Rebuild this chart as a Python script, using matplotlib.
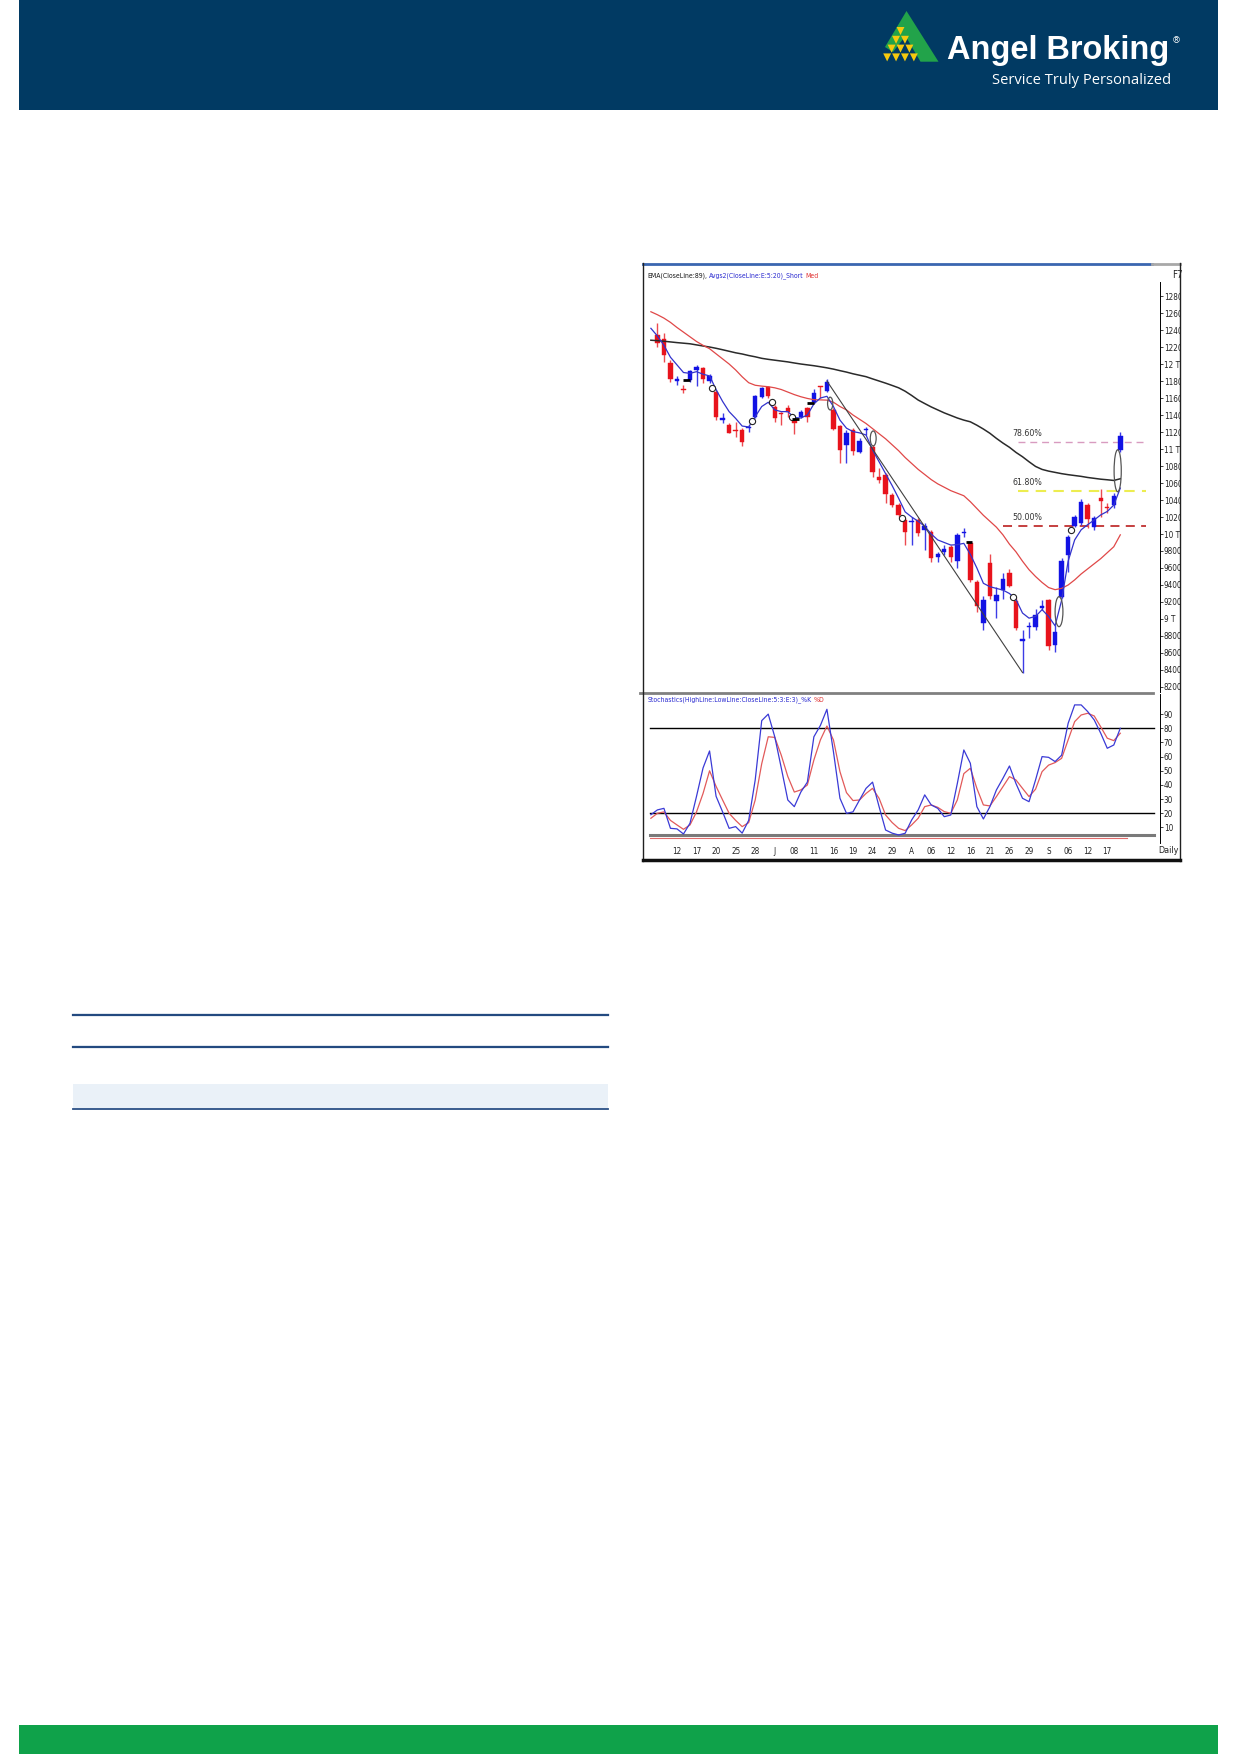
import numpy as np
import matplotlib
matplotlib.use("Agg")
import matplotlib.pyplot as plt
from matplotlib.patches import Rectangle, Polygon, Ellipse
from matplotlib import font_manager as fm

# ---------------- data ----------------
date_labels = ['12', '17', '20', '25', '28', 'J', '08', '11', '16', '19', '24', '29', 'A',
               '06', '12', '16', '21', '26', '29', 'S', '06', '12', '17']
date_label_pos = list(range(3, 70, 3))

opens = [12341, 12290, 12016, 11805, 11710, 11812, 11930, 11949, 11804, 11675,
         11345, 11282, 11227, 11224, 11247, 11380, 11616, 11733, 11498, 11420,
         11486, 11341, 11373, 11478, 11557, 11733, 11686, 11459, 11271, 11047,
         11224, 10969, 11224, 11020, 10675, 10690, 10459, 10341, 10165, 10137,
         10165, 10047, 10020, 9725, 9792, 9851, 9682, 10008, 9890, 9439,
         8949, 9655, 9216, 9341, 9537, 9216, 8745, 8902, 8910, 9133,
         9223, 8694, 9263, 9753, 10094, 10133, 10341, 10078, 10420, 10322,
         10341, 10988]
highs = [12479, 12361, 12047, 11859, 11753, 11930, 11988, 11969, 11883, 11694,
         11420, 11302, 11322, 11243, 11282, 11635, 11733, 11745, 11518, 11430,
         11518, 11361, 11459, 11498, 11702, 11741, 11820, 11478, 11282, 11224,
         11243, 11126, 11263, 11047, 10773, 10720, 10478, 10361, 10184, 10204,
         10184, 10125, 10047, 9792, 9871, 9871, 10008, 10067, 9910, 9459,
         9271, 9765, 9380, 9537, 9584, 9243, 8870, 8968, 9114, 9224,
         9235, 8929, 9714, 9988, 10224, 10408, 10361, 10212, 10525, 10361,
         10478, 11204]
lows = [12204, 12028, 11792, 11753, 11655, 11792, 11741, 11773, 11773, 11341,
        11302, 11184, 11145, 11035, 11204, 11361, 11596, 11596, 11322, 11282,
        11380, 11177, 11361, 11322, 11537, 11596, 11675, 11224, 10831, 10839,
        10929, 10949, 11165, 10675, 10604, 10361, 10314, 10204, 9871, 9871,
        9976, 9812, 9675, 9675, 9753, 9675, 9596, 9969, 9439, 9086,
        8871, 9231, 9008, 9231, 9373, 8871, 8370, 8773, 8870, 9106,
        8635, 8616, 9243, 9557, 10086, 10106, 10067, 10047, 10204, 10243,
        10302, 10969]
closes = [12243, 12106, 11824, 11812, 11695, 11922, 11969, 11820, 11859, 11380,
          11352, 11192, 11208, 11086, 11258, 11624, 11714, 11620, 11361, 11412,
          11439, 11302, 11439, 11373, 11655, 11725, 11792, 11232, 10988, 11184,
          10980, 11094, 11232, 10733, 10635, 10475, 10341, 10224, 10027, 10145,
          10016, 10098, 9714, 9765, 9820, 9725, 9988, 10016, 9459, 9153,
          9224, 9271, 9282, 9471, 9388, 8890, 8765, 8914, 9047, 9141,
          8680, 8851, 9682, 9969, 10196, 10380, 10176, 10184, 10388, 10302,
          10451, 11153]

# moving averages, first value is one bar before the first candle
ema89 = [12280, 12275, 12268, 12260, 12252, 12245, 12238, 12225, 12212, 12200,
         12185, 12168, 12150, 12132, 12118, 12100, 12085, 12067, 12055, 12045,
         12035, 12025, 12012, 12000, 11990, 11980, 11968, 11955, 11940, 11922,
         11905, 11885, 11868, 11851, 11825, 11800, 11775, 11748, 11720, 11680,
         11630, 11576, 11535, 11495, 11460, 11425, 11395, 11365, 11340, 11320,
         11280, 11235, 11185, 11125, 11070, 11020, 10960, 10909, 10850, 10795,
         10760, 10740, 10725, 10710, 10698, 10688, 10678, 10665, 10655, 10645,
         10638, 10630, 10650]
ema20 = [12615, 12580, 12540, 12490, 12430, 12375, 12320, 12265, 12220, 12180,
         12120, 12060, 12000, 11930, 11850, 11780, 11750, 11740, 11733, 11720,
         11700, 11670, 11640, 11615, 11595, 11580, 11578, 11575, 11550, 11500,
         11460, 11400, 11350, 11300, 11240, 11180, 11120, 11050, 10980, 10900,
         10830, 10760, 10700, 10640, 10590, 10550, 10510, 10480, 10450, 10380,
         10300, 10220, 10150, 10080, 9990, 9880, 9790, 9680, 9580, 9500,
         9430, 9370, 9345, 9360, 9400, 9460, 9530, 9590, 9650, 9710,
         9780, 9850, 9990]
ema5 = [12420, 12330, 12220, 12080, 11990, 11900, 11890, 11910, 11880, 11860,
        11700, 11560, 11440, 11360, 11270, 11260, 11380, 11500, 11550, 11460,
        11440, 11440, 11370, 11365, 11400, 11530, 11600, 11620, 11500, 11340,
        11245, 11205, 11190, 11165, 10990, 10850, 10710, 10570, 10420, 10260,
        10200, 10150, 10090, 10000, 9930, 9900, 9870, 9875, 9890, 9760,
        9600, 9420, 9380, 9360, 9340, 9300, 9230, 9070, 9010, 9030,
        9110, 9030, 8920, 9220, 9680, 9930, 10050, 10110, 10165, 10225,
        10265, 10340, 10540]

stoch_k = [19, 22.4, 23.5, 9.4, 9, 5.4, 13, 32, 52, 64,
           32, 21, 9.4, 10.6, 6, 15, 43.5, 85.4, 90, 74,
           52, 29.4, 24.7, 35, 42, 74, 82, 93.4, 63.5, 30.6,
           20, 21, 29.4, 37.6, 42, 24.7, 8.2, 6, 4.7, 5.9,
           15.3, 22.4, 33, 25.9, 23.5, 17.6, 18.8, 41, 64.7, 55.3,
           24.7, 16, 24.7, 36.5, 44.7, 53.4, 41, 30.6, 28.2, 43.5,
           60, 59.5, 56.5, 61, 83.5, 96.5, 96.5, 91.8, 85.9, 76.5,
           65.9, 68.2, 80]
stoch_d = [16.5, 20, 21, 15, 11.8, 8.7, 11.8, 21, 34, 50,
           39, 29.4, 20, 15, 10.6, 13.4, 29.4, 55, 74, 73.6,
           61, 46, 35, 36.5, 40, 57.6, 71.8, 81.6, 71.8, 49.4,
           34.6, 29, 29.4, 34, 37.6, 30.6, 18.8, 13.5, 9.4, 7.8,
           11.8, 16.5, 24.7, 25.9, 24.2, 21.2, 20, 29.4, 48, 51.8,
           37.6, 25.9, 25.2, 31.8, 38.8, 45.9, 43.5, 37.6, 31.8, 37,
           49.4, 54, 55.8, 58.8, 71.8, 84.7, 89.4, 90.6, 88.7, 81,
           73, 71.3, 76.5]

price_ticks = [8200, 8400, 8600, 8800, 9000, 9200, 9400, 9600, 9800, 10000, 10200, 10400,
               10600, 10800, 11000, 11200, 11400, 11600, 11800, 12000, 12200, 12400,
               12600, 12800]
price_tick_labels = ['8200', '8400', '8600', '8800', '9 T', '9200', '9400', '9600', '9800',
                     '10 T', '10200', '10400', '10600', '10800', '11 T', '11200', '11400',
                     '11600', '11800', '12 T', '12200', '12400', '12600', '12800']
stoch_ticks = [10, 20, 30, 40, 50, 60, 70, 80, 90]

fib_levels = [11079, 10506, 10094]
fib_labels = ['78.60%', '61.80%', '50.00%']
fib_start = [55.3, 55.3, 53.0]
fib_end = 74.9
fib_colors = ['#d89bc0', '#eded50', '#c03030']
fib_widths = [1.0, 1.5, 1.3]

trend_x = [26, 56]
trend_y = [11800, 8370]

circle_x = [8.4, 14.5, 17.5, 20.6, 37.5, 54.5, 63.5]
circle_y = [11714, 11333, 11557, 11373, 10192, 9263, 10047]
ellipse_x = [26.5, 33.1, 61.6, 70.6]
ellipse_y = [11535, 11124, 9086, 10744]
ellipse_w = [0.8, 0.9, 1.2, 1.1]
ellipse_h = [150, 176, 353, 494]
bar_x = [4.5, 21.2, 23.5, 47.8]
bar_y = [11812, 11349, 11545, 9910]


# ---------------- fonts ----------------
def pick_narrow():
    entries = fm.fontManager.ttflist

    def plain(f):
        n = f.fname.lower()
        return not any(k in n for k in ('bold', 'italic', 'oblique', 'light', 'black', 'medium', 'thin'))

    for want in ('Liberation Sans Narrow', 'DejaVu Sans', 'Roboto Condensed', 'Open Sans Condensed',
                 'Noto Sans', 'Open Sans'):
        for f in entries:
            narrow = ('narrow' in f.fname.lower() or 'condensed' in f.fname.lower()
                      or str(f.stretch) in ('condensed', 'semi-condensed'))
            if f.name == want and narrow and plain(f):
                return fm.FontProperties(fname=f.fname)
    for f in entries:
        n = f.fname.lower()
        if ('condensed' in n or 'narrow' in n) and plain(f):
            return fm.FontProperties(fname=f.fname)
    return fm.FontProperties(family='Roboto')


FP = pick_narrow()


def nfp(size):
    p = FP.copy()
    p.set_size(size)
    return p


TICK_FS = 5.9

# ---------------- figure ----------------
W, H = 1240, 1754
fig = plt.figure(figsize=(W / 100, H / 100), dpi=100)
fig.patch.set_facecolor('white')
renderer = fig.canvas.get_renderer()


def fit(t, target):
    w = t.get_window_extent(renderer).width
    t.set_fontsize(t.get_fontsize() * target / w)


bg = fig.add_axes([0, 0, 1, 1], zorder=-5)
bg.set_xlim(0, W); bg.set_ylim(H, 0); bg.axis('off')

# header banner
bg.add_patch(Rectangle((19, 0), 1199, 110, color='#013a63', lw=0))
# logo
bg.add_patch(Polygon([(906.5, 11.0), (938.5, 61.7), (920.5, 61.7), (905.5, 36),
                      (893, 52), (885, 47)], closed=True, color='#22a34a', lw=0))
tw, th = 8.9, 8.8
cx0 = 900.5
for r in range(4):
    ytop = 26.5 + r * th
    for k in range(r + 1):
        cx = cx0 - r * tw / 2 + k * tw
        bg.add_patch(Polygon([(cx - tw / 2 + 0.5, ytop + 0.5), (cx + tw / 2 - 0.5, ytop + 0.5),
                              (cx, ytop + th - 0.3)], closed=True, color='#f6c90e', lw=0))

t1 = bg.text(947, 59.5, 'Angel Broking', color='white', fontsize=22, fontweight='bold',
             family='Liberation Sans', va='baseline', ha='left')
fit(t1, 222)
bg.text(1172, 43, '®', color='white', fontsize=6.5, family='DejaVu Sans', va='baseline')
t2 = bg.text(992, 84, 'Service Truly Personalized', color='white', fontsize=10,
             family='Open Sans', va='baseline', ha='left')
fit(t2, 178)

# table lines
bg.add_patch(Rectangle((72.5, 1084), 535.5, 24, color='#eaf1f8', lw=0))
for yl in (1015, 1047.3):
    bg.plot([72.5, 608], [yl - 1.3, yl - 1.3], color='#7aa6da', lw=0.8)
    bg.plot([72.5, 608], [yl, yl], color='#234a80', lw=1.6)
bg.plot([72.5, 608], [1108.7, 1108.7], color='#2a4f86', lw=1.3)

# footer
bg.add_patch(Rectangle((19, 1725), 1199, 29, color='#0fa24a', lw=0))

# ---------------- main price panel ----------------
XL = (-2.21, 77.09)
ax = fig.add_axes([643 / W, 1 - 692 / H, 517 / W, 410 / H])
ax.set_xlim(*XL)
ax.set_ylim(8141, 12965)
ax.set_facecolor('white')

o = np.array(opens, float); h = np.array(highs, float)
l = np.array(lows, float); c = np.array(closes, float)
idx = np.arange(len(o))
RED, BLUE = '#e8131c', '#1212e4'
cols = np.where(c >= o, BLUE, RED)
wcols = np.where(c >= o, '#3c3ce6', '#ec4a50')
ax.vlines(idx, l, h, colors=wcols, lw=1.0, zorder=2)
body_bottom = np.minimum(o, c)
body_h = np.maximum(np.abs(c - o), 14)
ax.bar(idx, body_h, width=0.68, bottom=body_bottom, color=cols, edgecolor=cols, lw=0.3, zorder=2)

ma_idx = np.arange(-1, len(ema89) - 1)
ax.plot(ma_idx, ema89, color='#2a2a2a', lw=1.1, zorder=3)
ax.plot(ma_idx, ema20, color='#e04848', lw=0.9, zorder=3)
ax.plot(ma_idx, ema5, color='#3333cc', lw=0.9, zorder=3)
ax.plot(trend_x, trend_y, color='#404040', lw=0.8, zorder=3)

for lv, lb, st, fc, fw in zip(fib_levels, fib_labels, fib_start, fib_colors, fib_widths):
    ax.hlines(lv, st, fib_end, colors=fc, lw=fw, linestyles=(0, (5, 3.5)), zorder=1)
    ax.annotate(lb, (54.4, lv), xytext=(0, 3), textcoords='offset points',
                fontproperties=nfp(6.3), color='#333333', va='bottom', ha='left')

ax.scatter(circle_x, circle_y, s=20, facecolor='white', edgecolor='#222222', lw=0.8, zorder=4)
for ex, ey, ew, eh in zip(ellipse_x, ellipse_y, ellipse_w, ellipse_h):
    ax.add_patch(Ellipse((ex, ey), ew, eh, facecolor='none', edgecolor='#555555', lw=0.9, zorder=4))
ax.hlines(bar_y, np.array(bar_x) - 0.5, np.array(bar_x) + 0.5, colors='black', lw=2, zorder=4)

ax.set_xticks([])
ax.yaxis.tick_right()
ax.set_yticks(price_ticks, price_tick_labels)
ax.tick_params(axis='y', direction='out', length=2.2, width=0.6, pad=0.6, colors='#222222')
for lab in ax.get_yticklabels():
    lab.set_fontproperties(nfp(TICK_FS))
for s in ('left', 'top', 'bottom'):
    ax.spines[s].set_visible(False)
ax.spines['right'].set_linewidth(0.7)

# ---------------- stochastic panel ----------------
ax2 = fig.add_axes([643 / W, 1 - 843 / H, 517 / W, 149 / H])
ax2.set_xlim(*XL)
ax2.set_ylim(-0.96, 104.2)
x0f, x1f = (650 - 643) / 517, (1154 - 643) / 517
ax2.axhline(80, xmin=x0f, xmax=x1f, color='black', lw=1.0)
ax2.axhline(20, xmin=x0f, xmax=x1f, color='black', lw=1.0)
ax2.axhline(4.7, xmin=x0f, xmax=x1f, color='#7a7a7a', lw=2.2)
ax2.axhline(2.4, xmin=x0f, xmax=(1126.6 - 643) / 517, color='#e06a6a', lw=0.8)
ax2.plot(ma_idx, stoch_d, color='#e25a5a', lw=0.9)
ax2.plot(ma_idx, stoch_k, color='#3a3ad6', lw=0.9)
ax2.yaxis.tick_right()
ax2.set_yticks(stoch_ticks, [str(v) for v in stoch_ticks])
ax2.set_xticks(date_label_pos, date_labels)
ax2.tick_params(axis='y', direction='out', length=2.2, width=0.6, pad=0.6, colors='#222222')
ax2.tick_params(axis='x', length=0, pad=3, colors='#222222')
for lab in ax2.get_yticklabels() + ax2.get_xticklabels():
    lab.set_fontproperties(nfp(TICK_FS))
for s in ('left', 'top', 'bottom'):
    ax2.spines[s].set_visible(False)
ax2.spines['right'].set_linewidth(0.7)

# ---------------- overlay (chart frame, titles) ----------------
ov = fig.add_axes([0, 0, 1, 1], zorder=10)
ov.set_xlim(0, W); ov.set_ylim(H, 0); ov.axis('off')
ov.patch.set_alpha(0)
ov.add_patch(Rectangle((1181, 255), 59, 615, color='white', lw=0))
ov.plot([640, 1153], [693, 693], color='#808080', lw=2.0)
ov.plot([643, 1152], [264, 264], color='#3a66b0', lw=2.0)
ov.plot([1152, 1180], [264, 264], color='#a8a8a8', lw=2.0)
ov.plot([643, 643], [263, 861], color='#202020', lw=1.0)
ov.plot([1180, 1180], [263, 861], color='#202020', lw=1.0)
ov.plot([643, 1180], [860, 860], color='#101010', lw=2.5)


def multi(pieces, x, y, target):
    full = ov.text(x, y, ' '.join(p for p, _ in pieces), fontproperties=nfp(6),
                   va='center', ha='left')
    fit(full, target)
    fs = full.get_fontsize()
    full.remove()
    gap = fs * 100 / 72 * 0.25
    for p, col in pieces:
        t = ov.text(x, y, p, fontproperties=nfp(fs), color=col, va='center', ha='left')
        x += t.get_window_extent(renderer).width + gap


multi([('EMA(CloseLine:89),', '#1a1a1a'), ('Avgs2(CloseLine:E:5:20)_Short', '#2b2bd0'),
       ('Med', '#e03030')], 647.6, 275.5, 171)
multi([('Stochastics(HighLine:LowLine:CloseLine:5:3:E:3)_%K', '#2b2bd0'), ('%D', '#e03030')],
      647.6, 700, 175)
ov.text(1172, 275.5, 'F7', fontproperties=nfp(7), color='#222222', va='center', ha='left')
ov.text(1158, 850.5, 'Daily', fontproperties=nfp(6.5), color='#222222', va='center', ha='left')

fig.savefig('out.png', dpi=100)
